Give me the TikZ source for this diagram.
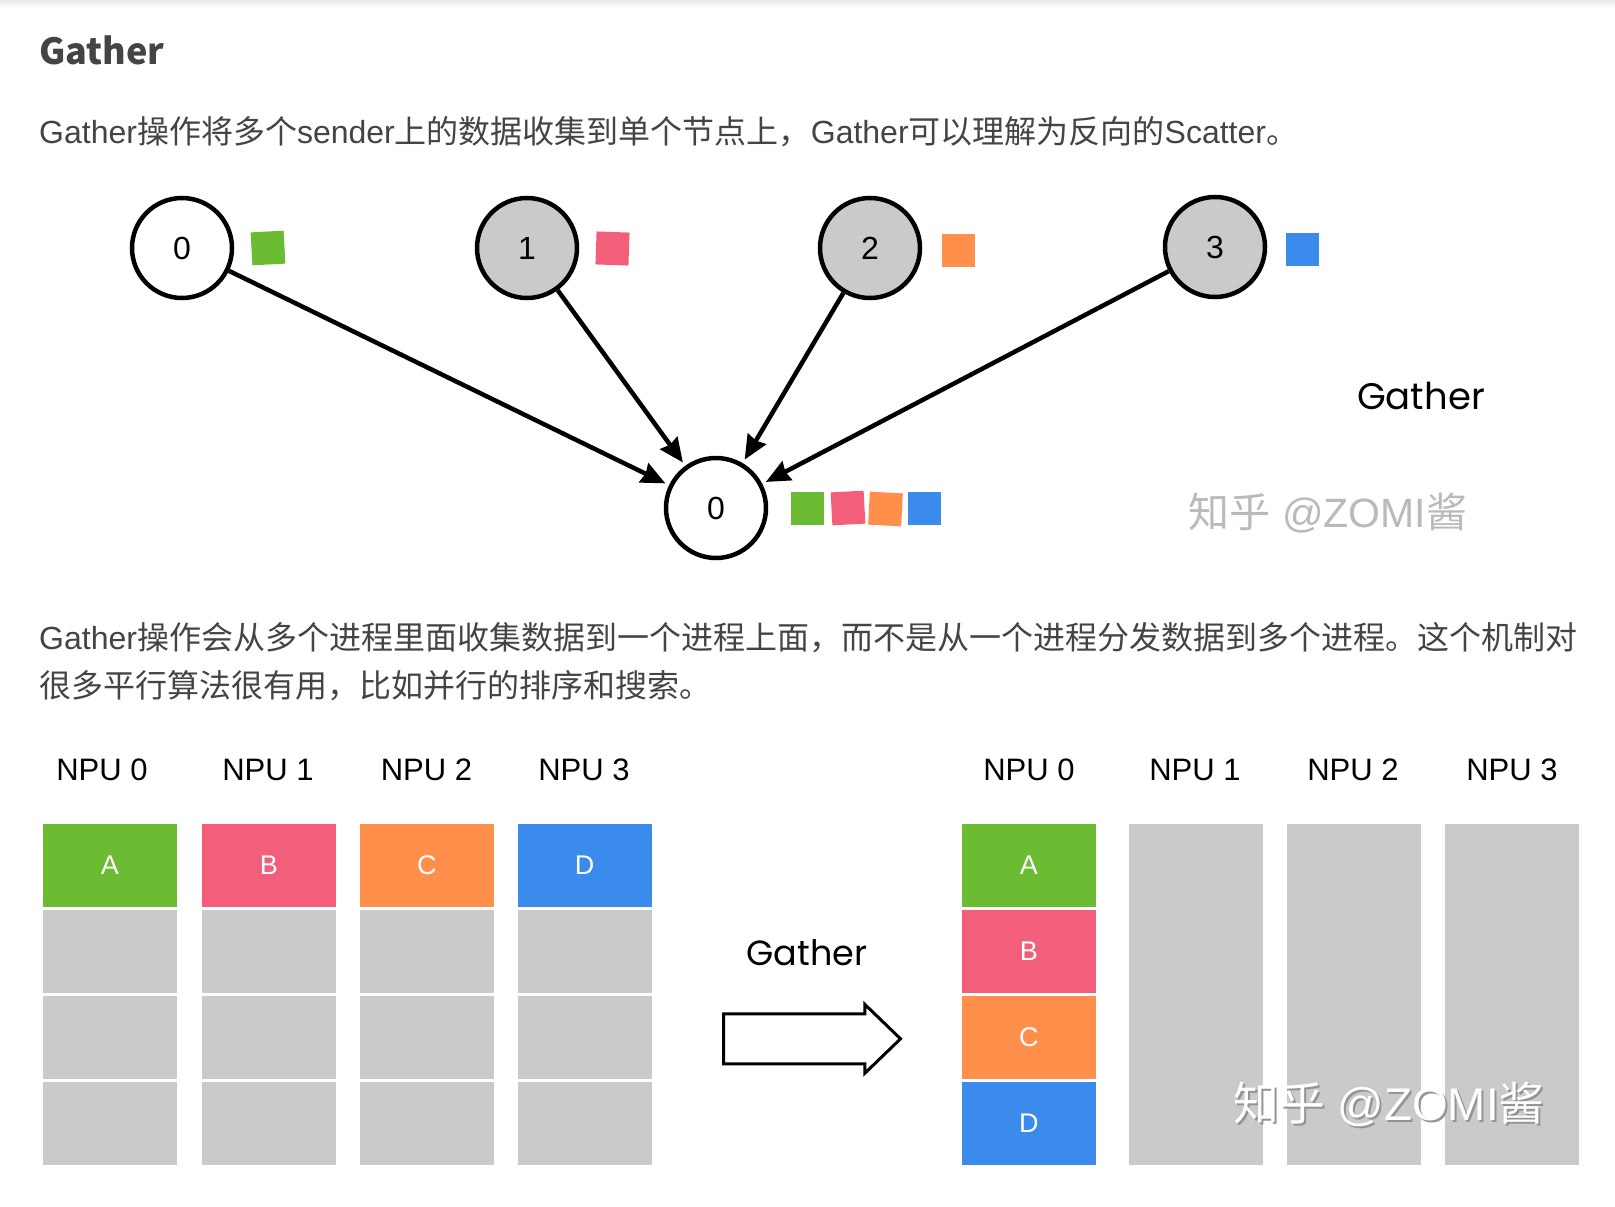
\documentclass[tikz,border=0pt]{standalone}
\usepackage{fontspec}
\setmainfont{Liberation Sans}
\newfontfamily\cjk{Noto Sans CJK SC}
\newfontfamily\roundfont{Poppins}
\newcommand{\zh}[1]{{\cjk #1}}
\usetikzlibrary{arrows.meta,shapes.arrows}

\definecolor{cgreen}{HTML}{6BBB33}
\definecolor{cred}{HTML}{F35F7B}
\definecolor{corange}{HTML}{FF8F4B}
\definecolor{cblue}{HTML}{3B8BEC}
\definecolor{cgray}{HTML}{CACACA}
\definecolor{ctext}{HTML}{444444}

\tikzstyle{para} = [anchor = west, inner sep = 0, text = ctext, align = left, font = \fontsize{32}{48}\selectfont]
\tikzstyle{rank} = [circle, minimum size = 100pt, inner sep = 0, draw = black, line width = 4.5pt, fill = white, font = \fontsize{32}{36}\selectfont]
\tikzstyle{rank1} = [rank, fill = cgray]
\tikzstyle{chip} = [rectangle, minimum width = 33pt, minimum height = 33pt, inner sep = 0]
\tikzstyle{cell} = [rectangle, minimum width = 134pt, minimum height = 82.6pt, inner sep = 0, text = white, font = \fontsize{27}{30}\selectfont, fill = cgray]
\tikzstyle{column} = [cell, minimum height = 340.4pt]
\tikzstyle{npu} = [inner sep = 0, text = black, font = \fontsize{31}{36}\selectfont]
\tikzstyle{title} = [inner sep = 0, text = black, font = \roundfont\fontsize{37}{40}\selectfont]
\tikzstyle{arrow} = [line width = 4.5pt, -{Stealth[length = 24pt, width = 21pt, inset = 2pt]}, draw = black, shorten > = 4pt]
\tikzstyle{bigarrow} = [single arrow, draw = black, line width = 3pt, fill = white, inner xsep = 0, inner ysep = 23.5pt, minimum height = 177pt, single arrow head extend = 9.5pt, single arrow head indent = 0pt, single arrow tip angle = 88, anchor = tail]

\begin{document}
\begin{tikzpicture}[x = 1pt, y = -1pt, node distance = 86pt]
    \useasboundingbox (0, 0) rectangle (1615, 1207);
    \shade[top color = black!9, bottom color = white] (0, 0) rectangle (1615, 8);

    % text
    \node(heading)[inner sep = 0, anchor = west, text = ctext, font = \cjk\bfseries\fontsize{36}{40}\selectfont] at (39, 50) {Gather};
    \node(intro)[para] at (39, 132) {Gather\zh{操作将多个}sender\zh{上的数据收集到单个节点上，}Gather\zh{可以理解为反向的}Scatter\zh{。}};
    \node(body)[para] at (39, 662) {Gather\zh{操作会从多个进程里面收集数据到一个进程上面，而不是从一个进程分发数据到多个进程。这个机制对}\\\zh{很多平行算法很有用，比如并行的排序和搜索。}};

    % upper diagram
    \node(rank0)[rank] at (182, 248) {0};
    \node(rank1)[rank1] at (527, 248) {1};
    \node(rank2)[rank1] at (870, 248) {2};
    \node(rank3)[rank1] at (1215, 247) {3};
    \node(root)[rank] at (716, 508) {0};
    \node(chip0)[chip, fill = cgreen, rotate = 3] at (268, 248) {};
    \node(chip1)[chip, fill = cred, rotate = -2] at (612.5, 248.5) {};
    \node(chip2)[chip, fill = corange] at (958, 250) {};
    \node(chip3)[chip, fill = cblue] at (1302, 249) {};
    \node(root0)[chip, fill = cgreen] at (807.5, 508.5) {};
    \node(root1)[chip, fill = cred, rotate = 3] at (848, 508) {};
    \node(root2)[chip, fill = corange, rotate = -3] at (885.5, 509) {};
    \node(root3)[chip, fill = cblue] at (924, 508.5) {};
    \node(gather_top)[title] at (1421, 396) {Gather};
    \node(mark_top)[inner sep = 0, text = black!27, font = \fontsize{41}{44}\selectfont] at (1328, 513) {\zh{知乎} @ZOMI\zh{酱}};
    \draw[arrow] (rank0) -- (root);
    \draw[arrow] (rank1) -- (root);
    \draw[arrow] (rank2) -- (root);
    \draw[arrow] (rank3) -- (root);

    % lower diagram, before
    \node(a0)[cell, fill = cgreen] at (109.8, 865.5) {A};
    \node(a1)[cell, below of = a0] {};
    \node(a2)[cell, below of = a1] {};
    \node(a3)[cell, below of = a2] {};
    \node(b0)[cell, fill = cred, right of = a0, xshift = 73.1pt] {B};
    \node(b1)[cell, below of = b0] {};
    \node(b2)[cell, below of = b1] {};
    \node(b3)[cell, below of = b2] {};
    \node(c0)[cell, fill = corange, right of = b0, xshift = 71.9pt] {C};
    \node(c1)[cell, below of = c0] {};
    \node(c2)[cell, below of = c1] {};
    \node(c3)[cell, below of = c2] {};
    \node(d0)[cell, fill = cblue, right of = c0, xshift = 71.9pt] {D};
    \node(d1)[cell, below of = d0] {};
    \node(d2)[cell, below of = d1] {};
    \node(d3)[cell, below of = d2] {};
    \node(npu0)[npu] at (102, 769.5) {NPU 0};
    \node(npu1)[npu] at (268, 769.5) {NPU 1};
    \node(npu2)[npu] at (426.5, 769.5) {NPU 2};
    \node(npu3)[npu] at (584, 769.5) {NPU 3};

    % middle
    \node(gather_mid)[title, font = \roundfont\fontsize{35}{40}\selectfont] at (807, 953) {Gather};
    \node(gather_arrow)[bigarrow] at (722, 1038.8) {};

    % lower diagram, after
    \node(e0)[cell, fill = cgreen] at (1028.8, 865.5) {A};
    \node(e1)[cell, fill = cred, below of = e0] {B};
    \node(e2)[cell, fill = corange, below of = e1] {C};
    \node(e3)[cell, fill = cblue, below of = e2] {D};
    \node(f0)[column] at (1196, 994.6) {};
    \node(g0)[column] at (1354.3, 994.6) {};
    \node(h0)[column] at (1511.8, 994.6) {};
    \node(npu4)[npu] at (1029, 769.5) {NPU 0};
    \node(npu5)[npu] at (1195, 769.5) {NPU 1};
    \node(npu6)[npu] at (1353, 769.5) {NPU 2};
    \node(npu7)[npu] at (1512, 769.5) {NPU 3};
    \node(mark_shade)[inner sep = 0, text = black!42, font = \fontsize{45.8}{50}\selectfont] at (1391, 1106) {\zh{知乎} @ZOMI\zh{酱}};
    \node(mark_low)[inner sep = 0, text = white, font = \fontsize{45.8}{50}\selectfont] at (1389, 1104) {\zh{知乎} @ZOMI\zh{酱}};
\end{tikzpicture}
\end{document}
